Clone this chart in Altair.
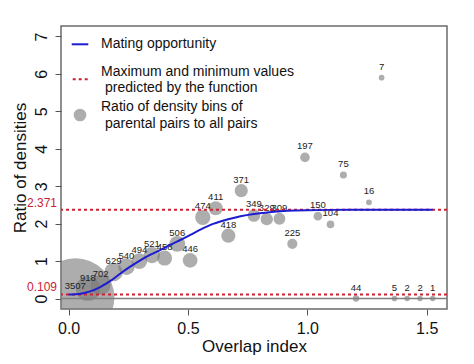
import altair as alt
import pandas as pd

# ---- data ----
overlap = [0.028, 0.081, 0.134, 0.188, 0.242, 0.296, 0.349, 0.402, 0.455, 0.509,
           0.562, 0.616, 0.669, 0.723, 0.776, 0.830, 0.883, 0.937, 0.990, 1.044,
           1.097, 1.151, 1.204, 1.258, 1.311, 1.365, 1.418, 1.472, 1.525]
ratio = [0.03, 0.26, 0.36, 0.71, 0.85, 1.00, 1.16, 1.08, 1.46, 1.02,
         2.17, 2.41, 1.68, 2.88, 2.22, 2.12, 2.13, 1.46, 3.77, 2.20,
         1.98, 3.30, 0.00, 2.57, 5.90, 0.00, 0.00, 0.00, 0.00]
counts = [3507, 918, 702, 629, 540, 494, 521, 458, 506, 446,
          474, 411, 418, 371, 349, 329, 309, 225, 197, 150,
          104, 75, 44, 16, 7, 5, 2, 2, 1]

curve_x = [0.0, 0.05, 0.09, 0.13, 0.175, 0.217, 0.258, 0.30, 0.343, 0.385, 0.427,
           0.47, 0.51, 0.552, 0.608, 0.664, 0.72, 0.776, 0.832, 0.888, 0.95, 1.0,
           1.1, 1.2, 1.35, 1.525]
curve_y = [0.109, 0.13, 0.19, 0.30, 0.47, 0.67, 0.85, 1.02, 1.17, 1.30, 1.44,
           1.57, 1.70, 1.84, 2.00, 2.11, 2.20, 2.26, 2.30, 2.33, 2.35, 2.36,
           2.368, 2.37, 2.371, 2.371]

ref_values = [0.109, 2.371]
ref_labels = ["0.109", "2.371"]

x_ticks = [0.0, 0.5, 1.0, 1.5]
y_ticks = [0, 1, 2, 3, 4, 5, 6, 7]

FONT = "Liberation Sans"
BLUE = "#1c1cd0"
RED = "#cc2233"
GREY = "#7a7a7a"

pts = pd.DataFrame({"x": overlap, "y": ratio, "n": counts})
cur = pd.DataFrame({"x": curve_x, "y": curve_y})
refs = pd.DataFrame({"y": ref_values, "label": ref_labels})
zero = pd.DataFrame({"y": [0]})
one = alt.Data(values=[{}])

xs = alt.Scale(domain=[-0.032, 1.585], nice=False, zero=False)
ys = alt.Scale(domain=[-0.28, 7.28], nice=False, zero=False)

xax = alt.Axis(values=x_ticks, format=".1f", title="Overlap index", labelFontSize=16,
               titleFontSize=17, titleFontWeight="normal", labelFont=FONT, titleFont=FONT,
               tickSize=6, labelPadding=5, titleY=42, titleBaseline="alphabetic",
               labelColor="#111", titleColor="#111", tickColor="#555", domain=False, grid=False)
yax = alt.Axis(values=y_ticks, format="d", title="Ratio of densities", labelFontSize=16,
               titleFontSize=17, titleFontWeight="normal", labelFont=FONT, titleFont=FONT,
               labelAngle=270, labelAlign="center", labelBaseline="alphabetic",
               tickSize=6, labelPadding=9, titleAngle=270, titleX=-36, titleY=141.5,
               titleAlign="center", titleBaseline="alphabetic",
               labelColor="#111", titleColor="#111", tickColor="#555", domain=False, grid=False)

points = alt.Chart(pts).transform_calculate(
    s="pow(5.5 + 0.0207 * datum.n, 2)"
).mark_circle(color=GREY, opacity=0.62, clip=True).encode(
    x=alt.X("x:Q", scale=xs, axis=xax),
    y=alt.Y("y:Q", scale=ys, axis=yax),
    size=alt.Size("s:Q", scale=None, legend=None),
)

labels = alt.Chart(pts).mark_text(dy=-11, fontSize=9.5, font=FONT, color="#222").encode(
    x=alt.X("x:Q", scale=xs), y=alt.Y("y:Q", scale=ys), text="n:Q"
)

zero_rule = alt.Chart(zero).mark_rule(color="#808080", strokeWidth=1.5).encode(
    y=alt.Y("y:Q", scale=ys)
)

ref_rules = alt.Chart(refs).mark_rule(color=RED, strokeWidth=2, strokeDash=[3, 3]).encode(
    y=alt.Y("y:Q", scale=ys)
)

ref_text = alt.Chart(refs).mark_text(align="right", baseline="middle", dy=-7, fontSize=12,
                                     font=FONT, color=RED).encode(
    x=alt.value(-4), y=alt.Y("y:Q", scale=ys), text="label:N"
)

line = alt.Chart(cur).mark_line(color=BLUE, strokeWidth=2, interpolate="monotone", clip=True).encode(
    x=alt.X("x:Q", scale=xs), y=alt.Y("y:Q", scale=ys)
)

# ---- legend (drawn in pixel space) ----
leg_line = alt.Chart(one).mark_rule(color=BLUE, strokeWidth=2).encode(
    x=alt.value(10.7), x2=alt.value(27.3), y=alt.value(18.3))
leg_dash = alt.Chart(one).mark_rule(color=RED, strokeWidth=2, strokeDash=[3, 3]).encode(
    x=alt.value(11.7), x2=alt.value(27), y=alt.value(53.3))
leg_dot = alt.Chart(one).mark_circle(color=GREY, opacity=0.62, size=160).encode(
    x=alt.value(19), y=alt.value(89))

legend_lines = [
    ("Mating opportunity", 40, 18.3),
    ("Maximum and minimum values", 40, 45.7),
    ("predicted by the function", 44, 62.3),
    ("Ratio of density bins of", 40, 81.3),
    ("parental pairs to all pairs", 44, 98.3),
]
leg_texts = [
    alt.Chart(one).mark_text(align="left", baseline="middle", fontSize=14, font=FONT,
                             color="#111", text=t).encode(x=alt.value(px), y=alt.value(py))
    for t, px, py in legend_lines
]

chart = alt.layer(points, labels, zero_rule, ref_rules, ref_text, line,
                  leg_line, leg_dash, leg_dot, *leg_texts).properties(
    width=386, height=283,
    padding={"left": 53, "top": 18, "right": 19, "bottom": 47},
    autosize=alt.AutoSizeParams(type="none"),
    background="white",
).configure_view(stroke="#6b6b6b", strokeWidth=1.5)

chart.save("out.html", embed_options={"renderer": "svg", "actions": False})
